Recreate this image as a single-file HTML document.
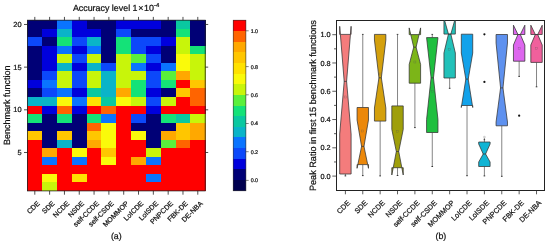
<!DOCTYPE html><html><head><meta charset="utf-8"><style>html,body{margin:0;padding:0;background:#fff;}svg{display:block;}text{font-family:"Liberation Sans",Arial,sans-serif;fill:#111;stroke:#111;stroke-width:0.22px;text-rendering:geometricPrecision;}</style></head><body>
<svg width="550" height="243" viewBox="0 0 550 243">
<rect width="550" height="243" fill="#fff"/>
<g shape-rendering="crispEdges">
<rect x="27.40" y="20.20" width="15.12" height="8.84" fill="#000076"/>
<rect x="42.22" y="20.20" width="15.12" height="8.84" fill="#000076"/>
<rect x="57.03" y="20.20" width="15.12" height="8.84" fill="#0a74ff"/>
<rect x="71.85" y="20.20" width="15.12" height="8.84" fill="#0000dc"/>
<rect x="86.67" y="20.20" width="15.12" height="8.84" fill="#000076"/>
<rect x="101.48" y="20.20" width="15.12" height="8.84" fill="#000076"/>
<rect x="116.30" y="20.20" width="15.12" height="8.84" fill="#0000dc"/>
<rect x="131.12" y="20.20" width="15.12" height="8.84" fill="#0000dc"/>
<rect x="145.93" y="20.20" width="15.12" height="8.84" fill="#0000dc"/>
<rect x="160.75" y="20.20" width="15.12" height="8.84" fill="#000076"/>
<rect x="175.57" y="20.20" width="15.12" height="8.84" fill="#0ac8a0"/>
<rect x="190.38" y="20.20" width="15.12" height="8.84" fill="#000076"/>
<rect x="27.40" y="28.73" width="15.12" height="8.84" fill="#000076"/>
<rect x="42.22" y="28.73" width="15.12" height="8.84" fill="#0000dc"/>
<rect x="57.03" y="28.73" width="15.12" height="8.84" fill="#0ab4c8"/>
<rect x="71.85" y="28.73" width="15.12" height="8.84" fill="#0000dc"/>
<rect x="86.67" y="28.73" width="15.12" height="8.84" fill="#0000dc"/>
<rect x="101.48" y="28.73" width="15.12" height="8.84" fill="#000076"/>
<rect x="116.30" y="28.73" width="15.12" height="8.84" fill="#0c48fa"/>
<rect x="131.12" y="28.73" width="15.12" height="8.84" fill="#000076"/>
<rect x="145.93" y="28.73" width="15.12" height="8.84" fill="#000076"/>
<rect x="160.75" y="28.73" width="15.12" height="8.84" fill="#000076"/>
<rect x="175.57" y="28.73" width="15.12" height="8.84" fill="#14e278"/>
<rect x="190.38" y="28.73" width="15.12" height="8.84" fill="#000076"/>
<rect x="27.40" y="37.27" width="15.12" height="8.84" fill="#0c48fa"/>
<rect x="42.22" y="37.27" width="15.12" height="8.84" fill="#000076"/>
<rect x="57.03" y="37.27" width="15.12" height="8.84" fill="#14e278"/>
<rect x="71.85" y="37.27" width="15.12" height="8.84" fill="#0c48fa"/>
<rect x="86.67" y="37.27" width="15.12" height="8.84" fill="#0ab4c8"/>
<rect x="101.48" y="37.27" width="15.12" height="8.84" fill="#000076"/>
<rect x="116.30" y="37.27" width="15.12" height="8.84" fill="#14e278"/>
<rect x="131.12" y="37.27" width="15.12" height="8.84" fill="#0c48fa"/>
<rect x="145.93" y="37.27" width="15.12" height="8.84" fill="#0c48fa"/>
<rect x="160.75" y="37.27" width="15.12" height="8.84" fill="#0000dc"/>
<rect x="175.57" y="37.27" width="15.12" height="8.84" fill="#c8f50a"/>
<rect x="190.38" y="37.27" width="15.12" height="8.84" fill="#000076"/>
<rect x="27.40" y="45.80" width="15.12" height="8.84" fill="#000076"/>
<rect x="42.22" y="45.80" width="15.12" height="8.84" fill="#0000dc"/>
<rect x="57.03" y="45.80" width="15.12" height="8.84" fill="#0a74ff"/>
<rect x="71.85" y="45.80" width="15.12" height="8.84" fill="#0000dc"/>
<rect x="86.67" y="45.80" width="15.12" height="8.84" fill="#0a74ff"/>
<rect x="101.48" y="45.80" width="15.12" height="8.84" fill="#000076"/>
<rect x="116.30" y="45.80" width="15.12" height="8.84" fill="#14e278"/>
<rect x="131.12" y="45.80" width="15.12" height="8.84" fill="#0c48fa"/>
<rect x="145.93" y="45.80" width="15.12" height="8.84" fill="#0000dc"/>
<rect x="160.75" y="45.80" width="15.12" height="8.84" fill="#000076"/>
<rect x="175.57" y="45.80" width="15.12" height="8.84" fill="#c8f50a"/>
<rect x="190.38" y="45.80" width="15.12" height="8.84" fill="#14e278"/>
<rect x="27.40" y="54.34" width="15.12" height="8.84" fill="#000076"/>
<rect x="42.22" y="54.34" width="15.12" height="8.84" fill="#0000dc"/>
<rect x="57.03" y="54.34" width="15.12" height="8.84" fill="#c8f50a"/>
<rect x="71.85" y="54.34" width="15.12" height="8.84" fill="#0c48fa"/>
<rect x="86.67" y="54.34" width="15.12" height="8.84" fill="#c8f50a"/>
<rect x="101.48" y="54.34" width="15.12" height="8.84" fill="#000076"/>
<rect x="116.30" y="54.34" width="15.12" height="8.84" fill="#c8f50a"/>
<rect x="131.12" y="54.34" width="15.12" height="8.84" fill="#5af03c"/>
<rect x="145.93" y="54.34" width="15.12" height="8.84" fill="#0c48fa"/>
<rect x="160.75" y="54.34" width="15.12" height="8.84" fill="#000076"/>
<rect x="175.57" y="54.34" width="15.12" height="8.84" fill="#fafa0a"/>
<rect x="190.38" y="54.34" width="15.12" height="8.84" fill="#c8f50a"/>
<rect x="27.40" y="62.88" width="15.12" height="8.84" fill="#000076"/>
<rect x="42.22" y="62.88" width="15.12" height="8.84" fill="#0000dc"/>
<rect x="57.03" y="62.88" width="15.12" height="8.84" fill="#0ab4c8"/>
<rect x="71.85" y="62.88" width="15.12" height="8.84" fill="#0000dc"/>
<rect x="86.67" y="62.88" width="15.12" height="8.84" fill="#0ab4c8"/>
<rect x="101.48" y="62.88" width="15.12" height="8.84" fill="#0c48fa"/>
<rect x="116.30" y="62.88" width="15.12" height="8.84" fill="#c8f50a"/>
<rect x="131.12" y="62.88" width="15.12" height="8.84" fill="#0a74ff"/>
<rect x="145.93" y="62.88" width="15.12" height="8.84" fill="#0000dc"/>
<rect x="160.75" y="62.88" width="15.12" height="8.84" fill="#0a74ff"/>
<rect x="175.57" y="62.88" width="15.12" height="8.84" fill="#fafa0a"/>
<rect x="190.38" y="62.88" width="15.12" height="8.84" fill="#c8f50a"/>
<rect x="27.40" y="71.41" width="15.12" height="8.84" fill="#000076"/>
<rect x="42.22" y="71.41" width="15.12" height="8.84" fill="#0c48fa"/>
<rect x="57.03" y="71.41" width="15.12" height="8.84" fill="#c8f50a"/>
<rect x="71.85" y="71.41" width="15.12" height="8.84" fill="#0c48fa"/>
<rect x="86.67" y="71.41" width="15.12" height="8.84" fill="#c8f50a"/>
<rect x="101.48" y="71.41" width="15.12" height="8.84" fill="#0ab4c8"/>
<rect x="116.30" y="71.41" width="15.12" height="8.84" fill="#c8f50a"/>
<rect x="131.12" y="71.41" width="15.12" height="8.84" fill="#c8f50a"/>
<rect x="145.93" y="71.41" width="15.12" height="8.84" fill="#0c48fa"/>
<rect x="160.75" y="71.41" width="15.12" height="8.84" fill="#5af03c"/>
<rect x="175.57" y="71.41" width="15.12" height="8.84" fill="#ffa800"/>
<rect x="190.38" y="71.41" width="15.12" height="8.84" fill="#c8f50a"/>
<rect x="27.40" y="79.95" width="15.12" height="8.84" fill="#0000dc"/>
<rect x="42.22" y="79.95" width="15.12" height="8.84" fill="#0a74ff"/>
<rect x="57.03" y="79.95" width="15.12" height="8.84" fill="#c8f50a"/>
<rect x="71.85" y="79.95" width="15.12" height="8.84" fill="#0c48fa"/>
<rect x="86.67" y="79.95" width="15.12" height="8.84" fill="#c8f50a"/>
<rect x="101.48" y="79.95" width="15.12" height="8.84" fill="#0ab4c8"/>
<rect x="116.30" y="79.95" width="15.12" height="8.84" fill="#c8f50a"/>
<rect x="131.12" y="79.95" width="15.12" height="8.84" fill="#14e278"/>
<rect x="145.93" y="79.95" width="15.12" height="8.84" fill="#0c48fa"/>
<rect x="160.75" y="79.95" width="15.12" height="8.84" fill="#14e278"/>
<rect x="175.57" y="79.95" width="15.12" height="8.84" fill="#ff0000"/>
<rect x="190.38" y="79.95" width="15.12" height="8.84" fill="#ffc600"/>
<rect x="27.40" y="88.48" width="15.12" height="8.84" fill="#000076"/>
<rect x="42.22" y="88.48" width="15.12" height="8.84" fill="#0c48fa"/>
<rect x="57.03" y="88.48" width="15.12" height="8.84" fill="#0a74ff"/>
<rect x="71.85" y="88.48" width="15.12" height="8.84" fill="#0000dc"/>
<rect x="86.67" y="88.48" width="15.12" height="8.84" fill="#0ac8a0"/>
<rect x="101.48" y="88.48" width="15.12" height="8.84" fill="#0ab4c8"/>
<rect x="116.30" y="88.48" width="15.12" height="8.84" fill="#ffa800"/>
<rect x="131.12" y="88.48" width="15.12" height="8.84" fill="#14e278"/>
<rect x="145.93" y="88.48" width="15.12" height="8.84" fill="#0000dc"/>
<rect x="160.75" y="88.48" width="15.12" height="8.84" fill="#000076"/>
<rect x="175.57" y="88.48" width="15.12" height="8.84" fill="#ffc600"/>
<rect x="190.38" y="88.48" width="15.12" height="8.84" fill="#ff6400"/>
<rect x="27.40" y="97.02" width="15.12" height="8.84" fill="#0ab4c8"/>
<rect x="42.22" y="97.02" width="15.12" height="8.84" fill="#0ab4c8"/>
<rect x="57.03" y="97.02" width="15.12" height="8.84" fill="#fafa0a"/>
<rect x="71.85" y="97.02" width="15.12" height="8.84" fill="#0a74ff"/>
<rect x="86.67" y="97.02" width="15.12" height="8.84" fill="#ffe100"/>
<rect x="101.48" y="97.02" width="15.12" height="8.84" fill="#0ac8a0"/>
<rect x="116.30" y="97.02" width="15.12" height="8.84" fill="#fafa0a"/>
<rect x="131.12" y="97.02" width="15.12" height="8.84" fill="#c8f50a"/>
<rect x="145.93" y="97.02" width="15.12" height="8.84" fill="#0c48fa"/>
<rect x="160.75" y="97.02" width="15.12" height="8.84" fill="#c8f50a"/>
<rect x="175.57" y="97.02" width="15.12" height="8.84" fill="#ff0000"/>
<rect x="190.38" y="97.02" width="15.12" height="8.84" fill="#ff6400"/>
<rect x="27.40" y="105.55" width="15.12" height="8.84" fill="#ff0000"/>
<rect x="42.22" y="105.55" width="15.12" height="8.84" fill="#0000dc"/>
<rect x="57.03" y="105.55" width="15.12" height="8.84" fill="#ff6400"/>
<rect x="71.85" y="105.55" width="15.12" height="8.84" fill="#0000dc"/>
<rect x="86.67" y="105.55" width="15.12" height="8.84" fill="#ff0000"/>
<rect x="101.48" y="105.55" width="15.12" height="8.84" fill="#ff6400"/>
<rect x="116.30" y="105.55" width="15.12" height="8.84" fill="#ff0000"/>
<rect x="131.12" y="105.55" width="15.12" height="8.84" fill="#ff0000"/>
<rect x="145.93" y="105.55" width="15.12" height="8.84" fill="#0000dc"/>
<rect x="160.75" y="105.55" width="15.12" height="8.84" fill="#ff0000"/>
<rect x="175.57" y="105.55" width="15.12" height="8.84" fill="#ff0000"/>
<rect x="190.38" y="105.55" width="15.12" height="8.84" fill="#ff0000"/>
<rect x="27.40" y="114.09" width="15.12" height="8.84" fill="#14e278"/>
<rect x="42.22" y="114.09" width="15.12" height="8.84" fill="#000076"/>
<rect x="57.03" y="114.09" width="15.12" height="8.84" fill="#14e278"/>
<rect x="71.85" y="114.09" width="15.12" height="8.84" fill="#000076"/>
<rect x="86.67" y="114.09" width="15.12" height="8.84" fill="#14e278"/>
<rect x="101.48" y="114.09" width="15.12" height="8.84" fill="#0a74ff"/>
<rect x="116.30" y="114.09" width="15.12" height="8.84" fill="#ff0000"/>
<rect x="131.12" y="114.09" width="15.12" height="8.84" fill="#0c48fa"/>
<rect x="145.93" y="114.09" width="15.12" height="8.84" fill="#000076"/>
<rect x="160.75" y="114.09" width="15.12" height="8.84" fill="#14e278"/>
<rect x="175.57" y="114.09" width="15.12" height="8.84" fill="#0ac8a0"/>
<rect x="190.38" y="114.09" width="15.12" height="8.84" fill="#c8f50a"/>
<rect x="27.40" y="122.62" width="15.12" height="8.84" fill="#000076"/>
<rect x="42.22" y="122.62" width="15.12" height="8.84" fill="#000076"/>
<rect x="57.03" y="122.62" width="15.12" height="8.84" fill="#000076"/>
<rect x="71.85" y="122.62" width="15.12" height="8.84" fill="#000076"/>
<rect x="86.67" y="122.62" width="15.12" height="8.84" fill="#ff6400"/>
<rect x="101.48" y="122.62" width="15.12" height="8.84" fill="#fafa0a"/>
<rect x="116.30" y="122.62" width="15.12" height="8.84" fill="#ff0000"/>
<rect x="131.12" y="122.62" width="15.12" height="8.84" fill="#000076"/>
<rect x="145.93" y="122.62" width="15.12" height="8.84" fill="#000076"/>
<rect x="160.75" y="122.62" width="15.12" height="8.84" fill="#000076"/>
<rect x="175.57" y="122.62" width="15.12" height="8.84" fill="#ffc600"/>
<rect x="190.38" y="122.62" width="15.12" height="8.84" fill="#ffa800"/>
<rect x="27.40" y="131.16" width="15.12" height="8.84" fill="#ffc600"/>
<rect x="42.22" y="131.16" width="15.12" height="8.84" fill="#000076"/>
<rect x="57.03" y="131.16" width="15.12" height="8.84" fill="#ffc600"/>
<rect x="71.85" y="131.16" width="15.12" height="8.84" fill="#000076"/>
<rect x="86.67" y="131.16" width="15.12" height="8.84" fill="#ffc600"/>
<rect x="101.48" y="131.16" width="15.12" height="8.84" fill="#fafa0a"/>
<rect x="116.30" y="131.16" width="15.12" height="8.84" fill="#ff0000"/>
<rect x="131.12" y="131.16" width="15.12" height="8.84" fill="#fafa0a"/>
<rect x="145.93" y="131.16" width="15.12" height="8.84" fill="#000076"/>
<rect x="160.75" y="131.16" width="15.12" height="8.84" fill="#ffa800"/>
<rect x="175.57" y="131.16" width="15.12" height="8.84" fill="#ffc600"/>
<rect x="190.38" y="131.16" width="15.12" height="8.84" fill="#ffa800"/>
<rect x="27.40" y="139.69" width="15.12" height="8.84" fill="#ff0000"/>
<rect x="42.22" y="139.69" width="15.12" height="8.84" fill="#000076"/>
<rect x="57.03" y="139.69" width="15.12" height="8.84" fill="#0ab4c8"/>
<rect x="71.85" y="139.69" width="15.12" height="8.84" fill="#000076"/>
<rect x="86.67" y="139.69" width="15.12" height="8.84" fill="#ffa800"/>
<rect x="101.48" y="139.69" width="15.12" height="8.84" fill="#fafa0a"/>
<rect x="116.30" y="139.69" width="15.12" height="8.84" fill="#ff0000"/>
<rect x="131.12" y="139.69" width="15.12" height="8.84" fill="#ff0000"/>
<rect x="145.93" y="139.69" width="15.12" height="8.84" fill="#000076"/>
<rect x="160.75" y="139.69" width="15.12" height="8.84" fill="#5af03c"/>
<rect x="175.57" y="139.69" width="15.12" height="8.84" fill="#ff6400"/>
<rect x="190.38" y="139.69" width="15.12" height="8.84" fill="#ff0000"/>
<rect x="27.40" y="148.22" width="15.12" height="8.84" fill="#ff0000"/>
<rect x="42.22" y="148.22" width="15.12" height="8.84" fill="#ffa800"/>
<rect x="57.03" y="148.22" width="15.12" height="8.84" fill="#ff0000"/>
<rect x="71.85" y="148.22" width="15.12" height="8.84" fill="#fafa0a"/>
<rect x="86.67" y="148.22" width="15.12" height="8.84" fill="#ff0000"/>
<rect x="101.48" y="148.22" width="15.12" height="8.84" fill="#ffc600"/>
<rect x="116.30" y="148.22" width="15.12" height="8.84" fill="#ff0000"/>
<rect x="131.12" y="148.22" width="15.12" height="8.84" fill="#ff0000"/>
<rect x="145.93" y="148.22" width="15.12" height="8.84" fill="#c8f50a"/>
<rect x="160.75" y="148.22" width="15.12" height="8.84" fill="#ff0000"/>
<rect x="175.57" y="148.22" width="15.12" height="8.84" fill="#ff0000"/>
<rect x="190.38" y="148.22" width="15.12" height="8.84" fill="#ff0000"/>
<rect x="27.40" y="156.76" width="15.12" height="8.84" fill="#ff0000"/>
<rect x="42.22" y="156.76" width="15.12" height="8.84" fill="#0a74ff"/>
<rect x="57.03" y="156.76" width="15.12" height="8.84" fill="#ff0000"/>
<rect x="71.85" y="156.76" width="15.12" height="8.84" fill="#0a74ff"/>
<rect x="86.67" y="156.76" width="15.12" height="8.84" fill="#ff0000"/>
<rect x="101.48" y="156.76" width="15.12" height="8.84" fill="#fafa0a"/>
<rect x="116.30" y="156.76" width="15.12" height="8.84" fill="#ff0000"/>
<rect x="131.12" y="156.76" width="15.12" height="8.84" fill="#ffa800"/>
<rect x="145.93" y="156.76" width="15.12" height="8.84" fill="#0a74ff"/>
<rect x="160.75" y="156.76" width="15.12" height="8.84" fill="#ff0000"/>
<rect x="175.57" y="156.76" width="15.12" height="8.84" fill="#ff0000"/>
<rect x="190.38" y="156.76" width="15.12" height="8.84" fill="#ff0000"/>
<rect x="27.40" y="165.29" width="15.12" height="8.84" fill="#ff0000"/>
<rect x="42.22" y="165.29" width="15.12" height="8.84" fill="#ff0000"/>
<rect x="57.03" y="165.29" width="15.12" height="8.84" fill="#ff0000"/>
<rect x="71.85" y="165.29" width="15.12" height="8.84" fill="#ff0000"/>
<rect x="86.67" y="165.29" width="15.12" height="8.84" fill="#ff0000"/>
<rect x="101.48" y="165.29" width="15.12" height="8.84" fill="#ff0000"/>
<rect x="116.30" y="165.29" width="15.12" height="8.84" fill="#ff0000"/>
<rect x="131.12" y="165.29" width="15.12" height="8.84" fill="#ff0000"/>
<rect x="145.93" y="165.29" width="15.12" height="8.84" fill="#ff0000"/>
<rect x="160.75" y="165.29" width="15.12" height="8.84" fill="#ff0000"/>
<rect x="175.57" y="165.29" width="15.12" height="8.84" fill="#ff0000"/>
<rect x="190.38" y="165.29" width="15.12" height="8.84" fill="#ff0000"/>
<rect x="27.40" y="173.83" width="15.12" height="8.84" fill="#ff0000"/>
<rect x="42.22" y="173.83" width="15.12" height="8.84" fill="#fafa0a"/>
<rect x="57.03" y="173.83" width="15.12" height="8.84" fill="#ff0000"/>
<rect x="71.85" y="173.83" width="15.12" height="8.84" fill="#ffe100"/>
<rect x="86.67" y="173.83" width="15.12" height="8.84" fill="#ff0000"/>
<rect x="101.48" y="173.83" width="15.12" height="8.84" fill="#ff0000"/>
<rect x="116.30" y="173.83" width="15.12" height="8.84" fill="#ff0000"/>
<rect x="131.12" y="173.83" width="15.12" height="8.84" fill="#ff0000"/>
<rect x="145.93" y="173.83" width="15.12" height="8.84" fill="#0a74ff"/>
<rect x="160.75" y="173.83" width="15.12" height="8.84" fill="#ff0000"/>
<rect x="175.57" y="173.83" width="15.12" height="8.84" fill="#ff0000"/>
<rect x="190.38" y="173.83" width="15.12" height="8.84" fill="#ff0000"/>
<rect x="27.40" y="182.36" width="15.12" height="8.84" fill="#ff0000"/>
<rect x="42.22" y="182.36" width="15.12" height="8.84" fill="#c8f50a"/>
<rect x="57.03" y="182.36" width="15.12" height="8.84" fill="#ff0000"/>
<rect x="71.85" y="182.36" width="15.12" height="8.84" fill="#ff0000"/>
<rect x="86.67" y="182.36" width="15.12" height="8.84" fill="#ff0000"/>
<rect x="101.48" y="182.36" width="15.12" height="8.84" fill="#ff0000"/>
<rect x="116.30" y="182.36" width="15.12" height="8.84" fill="#ff0000"/>
<rect x="131.12" y="182.36" width="15.12" height="8.84" fill="#ff0000"/>
<rect x="145.93" y="182.36" width="15.12" height="8.84" fill="#ff0000"/>
<rect x="160.75" y="182.36" width="15.12" height="8.84" fill="#ff0000"/>
<rect x="175.57" y="182.36" width="15.12" height="8.84" fill="#ff0000"/>
<rect x="190.38" y="182.36" width="15.12" height="8.84" fill="#ff0000"/>
</g>
<rect x="27.4" y="20.2" width="177.80" height="170.70" fill="none" stroke="#222" stroke-width="0.8"/>
<path d="M34.81 20.2V16.9 M34.81 190.9V194.70000000000002 M49.62 20.2V16.9 M49.62 190.9V194.70000000000002 M64.44 20.2V16.9 M64.44 190.9V194.70000000000002 M79.26 20.2V16.9 M79.26 190.9V194.70000000000002 M94.07 20.2V16.9 M94.07 190.9V194.70000000000002 M108.89 20.2V16.9 M108.89 190.9V194.70000000000002 M123.71 20.2V16.9 M123.71 190.9V194.70000000000002 M138.52 20.2V16.9 M138.52 190.9V194.70000000000002 M153.34 20.2V16.9 M153.34 190.9V194.70000000000002 M168.16 20.2V16.9 M168.16 190.9V194.70000000000002 M182.97 20.2V16.9 M182.97 190.9V194.70000000000002 M197.79 20.2V16.9 M197.79 190.9V194.70000000000002 M27.4 24.47H24.0 M205.2 24.47H208.2 M27.4 67.14H24.0 M205.2 67.14H208.2 M27.4 109.82H24.0 M205.2 109.82H208.2 M27.4 152.49H24.0 M205.2 152.49H208.2" stroke="#222" stroke-width="0.8" fill="none"/>
<text x="21.5" y="27.07" font-size="7.4" text-anchor="end">20</text>
<text x="21.5" y="69.74" font-size="7.4" text-anchor="end">15</text>
<text x="21.5" y="112.42" font-size="7.4" text-anchor="end">10</text>
<text x="21.5" y="155.09" font-size="7.4" text-anchor="end">5</text>
<text transform="translate(40.21,203.9) rotate(-45)" font-size="7.0" text-anchor="end">CDE</text>
<text transform="translate(55.02,203.9) rotate(-45)" font-size="7.0" text-anchor="end">SDE</text>
<text transform="translate(69.84,203.9) rotate(-45)" font-size="7.0" text-anchor="end">NCDE</text>
<text transform="translate(84.66,203.9) rotate(-45)" font-size="7.0" text-anchor="end">NSDE</text>
<text transform="translate(99.47,203.9) rotate(-45)" font-size="7.0" text-anchor="end">self-CCDE</text>
<text transform="translate(114.29,203.9) rotate(-45)" font-size="7.0" text-anchor="end">self-CSDE</text>
<text transform="translate(129.11,203.9) rotate(-45)" font-size="7.0" text-anchor="end">MOMMOP</text>
<text transform="translate(143.92,203.9) rotate(-45)" font-size="7.0" text-anchor="end">LoICDE</text>
<text transform="translate(158.74,203.9) rotate(-45)" font-size="7.0" text-anchor="end">LoISDE</text>
<text transform="translate(173.56,203.9) rotate(-45)" font-size="7.0" text-anchor="end">PNPCDE</text>
<text transform="translate(188.38,203.9) rotate(-45)" font-size="7.0" text-anchor="end">FBK-DE</text>
<text transform="translate(203.19,203.9) rotate(-45)" font-size="7.0" text-anchor="end">DE-NBA</text>
<text transform="translate(10.2,105.2) rotate(-90)" font-size="9.0" text-anchor="middle">Benchmark function</text>
<text x="72.9" y="10.6" font-size="8.9">Accuracy level 1<tspan dx="0.7">×</tspan><tspan dx="0.7">10</tspan><tspan font-size="5.8" dy="-3.6">-4</tspan></text>
<text x="116.3" y="239.2" font-size="8.8" text-anchor="middle">(a)</text>
<g shape-rendering="crispEdges">
<rect x="233.2" y="20.20" width="12.70" height="10.96" fill="#ff0000"/>
<rect x="233.2" y="30.86" width="12.70" height="10.96" fill="#ff6400"/>
<rect x="233.2" y="41.53" width="12.70" height="10.96" fill="#ffa800"/>
<rect x="233.2" y="52.19" width="12.70" height="10.96" fill="#ffc600"/>
<rect x="233.2" y="62.85" width="12.70" height="10.96" fill="#ffe100"/>
<rect x="233.2" y="73.51" width="12.70" height="10.96" fill="#fafa0a"/>
<rect x="233.2" y="84.18" width="12.70" height="10.96" fill="#c8f50a"/>
<rect x="233.2" y="94.84" width="12.70" height="10.96" fill="#5af03c"/>
<rect x="233.2" y="105.50" width="12.70" height="10.96" fill="#14e278"/>
<rect x="233.2" y="116.16" width="12.70" height="10.96" fill="#0ac8a0"/>
<rect x="233.2" y="126.83" width="12.70" height="10.96" fill="#0ab4c8"/>
<rect x="233.2" y="137.49" width="12.70" height="10.96" fill="#0a74ff"/>
<rect x="233.2" y="148.15" width="12.70" height="10.96" fill="#0c48fa"/>
<rect x="233.2" y="158.81" width="12.70" height="10.96" fill="#0000dc"/>
<rect x="233.2" y="169.48" width="12.70" height="10.96" fill="#000076"/>
<rect x="233.2" y="180.14" width="12.70" height="10.96" fill="#000050"/>
</g>
<rect x="233.2" y="20.2" width="12.70" height="170.60" fill="none" stroke="#333" stroke-width="0.6"/>
<path d="M245.9 30.8H248.70000000000002 M245.9 66.6H248.70000000000002 M245.9 94.8H248.70000000000002 M245.9 123.5H248.70000000000002 M245.9 151.7H248.70000000000002 M245.9 180.4H248.70000000000002" stroke="#333" stroke-width="0.6"/>
<text x="250.7" y="32.70" font-size="5.3">1.0</text>
<text x="250.7" y="68.50" font-size="5.3">0.8</text>
<text x="250.7" y="96.70" font-size="5.3">0.6</text>
<text x="250.7" y="125.40" font-size="5.3">0.4</text>
<text x="250.7" y="153.60" font-size="5.3">0.2</text>
<text x="250.7" y="182.30" font-size="5.3">0.0</text>
<rect x="336.5" y="20.5" width="208.00" height="170.00" fill="none" stroke="#222" stroke-width="1"/>
<path d="M336.5 176.10H332.3 M336.5 161.96H334.0 M336.5 147.82H332.3 M336.5 133.68H334.0 M336.5 119.54H332.3 M336.5 105.40H334.0 M336.5 91.26H332.3 M336.5 77.12H334.0 M336.5 62.98H332.3 M336.5 48.84H334.0 M336.5 34.70H332.3 M345.40 190.5V194.3 M362.77 190.5V194.3 M380.15 190.5V194.3 M397.52 190.5V194.3 M414.90 190.5V194.3 M432.27 190.5V194.3 M449.65 190.5V194.3 M467.02 190.5V194.3 M484.40 190.5V194.3 M501.77 190.5V194.3 M519.15 190.5V194.3 M536.52 190.5V194.3" stroke="#333" stroke-width="0.8" fill="none"/>
<text x="330.6" y="178.70" font-size="7.3" text-anchor="end">0.0</text>
<text x="330.6" y="150.42" font-size="7.3" text-anchor="end">0.2</text>
<text x="330.6" y="122.14" font-size="7.3" text-anchor="end">0.4</text>
<text x="330.6" y="93.86" font-size="7.3" text-anchor="end">0.6</text>
<text x="330.6" y="65.58" font-size="7.3" text-anchor="end">0.8</text>
<text x="330.6" y="37.30" font-size="7.3" text-anchor="end">1.0</text>
<text transform="translate(350.60,203.4) rotate(-45)" font-size="7.25" text-anchor="end">CDE</text>
<text transform="translate(367.97,203.4) rotate(-45)" font-size="7.25" text-anchor="end">SDE</text>
<text transform="translate(385.35,203.4) rotate(-45)" font-size="7.25" text-anchor="end">NCDE</text>
<text transform="translate(402.72,203.4) rotate(-45)" font-size="7.25" text-anchor="end">NSDE</text>
<text transform="translate(420.10,203.4) rotate(-45)" font-size="7.25" text-anchor="end">self-CCDE</text>
<text transform="translate(437.47,203.4) rotate(-45)" font-size="7.25" text-anchor="end">self-CSDE</text>
<text transform="translate(454.85,203.4) rotate(-45)" font-size="7.25" text-anchor="end">MOMMOP</text>
<text transform="translate(472.22,203.4) rotate(-45)" font-size="7.25" text-anchor="end">LoICDE</text>
<text transform="translate(489.60,203.4) rotate(-45)" font-size="7.25" text-anchor="end">LoISDE</text>
<text transform="translate(506.97,203.4) rotate(-45)" font-size="7.25" text-anchor="end">PNPCDE</text>
<text transform="translate(524.35,203.4) rotate(-45)" font-size="7.25" text-anchor="end">FBK-DE</text>
<text transform="translate(541.73,203.4) rotate(-45)" font-size="7.25" text-anchor="end">DE-NBA</text>
<text transform="translate(316.4,105.6) rotate(-90)" font-size="9.15" text-anchor="middle">Peak Ratio in first 15 benchmark functions</text>
<text x="440.9" y="238.6" font-size="8.8" text-anchor="middle">(b)</text>
<defs><clipPath id="pc"><rect x="336.5" y="20.5" width="208.0" height="170.0"/></clipPath></defs>
<g clip-path="url(#pc)">
<path d="M345.40 174.0V175.9" stroke="#777" stroke-width="0.9"/>
<rect x="344.60" y="175.40" width="1.6" height="1" fill="#333"/>
<polygon points="339.70,174.00 339.70,134.00 344.20,81.40 340.36,34.40 350.44,34.40 346.60,81.40 351.10,134.00 351.10,174.00" fill="#f47c7c" stroke="#333" stroke-width="0.75" stroke-linejoin="round"/>
<path d="M340.36 34.4L339.70 26.30L339.70 34.4ZM350.44 34.4L351.10 26.30L351.10 34.4Z" fill="#f47c7c" stroke="#333" stroke-width="0.75" stroke-linejoin="round"/>
<path d="M343.90 81.4H346.90" stroke="#333" stroke-width="0.7"/>
<rect x="344.40" y="96.00" width="2" height="2" fill="none" stroke="#555" stroke-width="0.35" opacity="0.6"/>
<path d="M362.77 34.4V107.5" stroke="#777" stroke-width="0.9"/>
<rect x="361.97" y="33.90" width="1.6" height="1" fill="#444"/>
<path d="M362.77 164.6V175.6" stroke="#777" stroke-width="0.9"/>
<rect x="361.97" y="175.10" width="1.6" height="1" fill="#333"/>
<polygon points="357.84,164.60 361.57,146.40 357.07,120.00 357.07,107.50 368.47,107.50 368.47,120.00 363.97,146.40 367.71,164.60" fill="#ec880a" stroke="#333" stroke-width="0.75" stroke-linejoin="round"/>
<path d="M357.84 164.6L357.07 168.30L357.07 164.6ZM367.71 164.6L368.47 168.30L368.47 164.6Z" fill="#ec880a" stroke="#333" stroke-width="0.75" stroke-linejoin="round"/>
<path d="M361.27 146.4H364.27" stroke="#333" stroke-width="0.7"/>
<rect x="361.77" y="130.00" width="2" height="2" fill="none" stroke="#555" stroke-width="0.35" opacity="0.6"/>
<path d="M380.15 121.1V175.9" stroke="#777" stroke-width="0.9"/>
<rect x="379.35" y="175.40" width="1.6" height="1" fill="#333"/>
<polygon points="374.45,121.10 374.45,108.00 378.95,77.80 374.45,40.00 374.45,34.40 385.85,34.40 385.85,40.00 381.35,77.80 385.85,108.00 385.85,121.10" fill="#d4a00c" stroke="#333" stroke-width="0.75" stroke-linejoin="round"/>
<path d="M378.65 77.8H381.65" stroke="#333" stroke-width="0.7"/>
<rect x="379.15" y="73.00" width="2" height="2" fill="none" stroke="#555" stroke-width="0.35" opacity="0.6"/>
<path d="M397.52 34.4V105.9" stroke="#777" stroke-width="0.9"/>
<rect x="396.72" y="33.90" width="1.6" height="1" fill="#444"/>
<path d="M397.52 167.7V175.5" stroke="#777" stroke-width="0.9"/>
<rect x="396.72" y="175.00" width="1.6" height="1" fill="#333"/>
<polygon points="393.22,167.70 396.32,151.50 391.82,129.40 391.82,105.90 403.22,105.90 403.22,129.40 398.72,151.50 401.83,167.70" fill="#9f9f0a" stroke="#333" stroke-width="0.75" stroke-linejoin="round"/>
<path d="M393.22 167.7L391.82 175.00L391.82 167.7ZM401.83 167.7L403.22 175.00L403.22 167.7Z" fill="#9f9f0a" stroke="#333" stroke-width="0.75" stroke-linejoin="round"/>
<path d="M396.02 151.5H399.02" stroke="#333" stroke-width="0.7"/>
<rect x="396.52" y="130.30" width="2" height="2" fill="none" stroke="#555" stroke-width="0.35" opacity="0.6"/>
<path d="M414.90 83.2V127.6" stroke="#777" stroke-width="0.9"/>
<rect x="414.10" y="127.10" width="1.6" height="1" fill="#333"/>
<polygon points="409.20,83.20 409.20,64.40 413.70,47.20 410.76,34.60 419.04,34.60 416.10,47.20 420.60,64.40 420.60,83.20" fill="#7cb518" stroke="#333" stroke-width="0.75" stroke-linejoin="round"/>
<path d="M410.76 34.6L409.20 27.90L409.20 34.6ZM419.04 34.6L420.60 27.90L420.60 34.6Z" fill="#7cb518" stroke="#333" stroke-width="0.75" stroke-linejoin="round"/>
<path d="M413.40 47.2H416.40" stroke="#333" stroke-width="0.7"/>
<rect x="413.90" y="61.00" width="2" height="2" fill="none" stroke="#555" stroke-width="0.35" opacity="0.6"/>
<path d="M432.27 34.4V37.6" stroke="#777" stroke-width="0.9"/>
<rect x="431.47" y="33.90" width="1.6" height="1" fill="#444"/>
<path d="M432.27 132.5V166.5" stroke="#777" stroke-width="0.9"/>
<rect x="431.47" y="166.00" width="1.6" height="1" fill="#333"/>
<polygon points="426.57,132.50 426.57,119.60 431.07,77.80 426.57,37.60 437.97,37.60 433.47,77.80 437.97,119.60 437.97,132.50" fill="#1fbf3f" stroke="#333" stroke-width="0.75" stroke-linejoin="round"/>
<path d="M430.77 77.8H433.77" stroke="#333" stroke-width="0.7"/>
<rect x="431.27" y="90.60" width="2" height="2" fill="none" stroke="#555" stroke-width="0.35" opacity="0.6"/>
<path d="M449.65 78.0V88.3" stroke="#777" stroke-width="0.9"/>
<rect x="448.85" y="87.80" width="1.6" height="1" fill="#333"/>
<polygon points="443.95,78.00 443.95,53.00 448.45,34.10 450.85,34.10 455.35,53.00 455.35,78.00" fill="#22c1b9" stroke="#333" stroke-width="0.75" stroke-linejoin="round"/>
<path d="M448.45 34.1L443.95 18.00L443.95 34.1ZM450.85 34.1L455.35 18.00L455.35 34.1Z" fill="#22c1b9" stroke="#333" stroke-width="0.75" stroke-linejoin="round"/>
<path d="M448.15 34.1H451.15" stroke="#333" stroke-width="0.7"/>
<rect x="448.65" y="48.80" width="2" height="2" fill="none" stroke="#555" stroke-width="0.35" opacity="0.6"/>
<path d="M467.02 105.5V175.7" stroke="#777" stroke-width="0.9"/>
<rect x="466.22" y="175.20" width="1.6" height="1" fill="#333"/>
<polygon points="461.64,105.50 465.82,79.10 461.32,53.00 461.32,34.20 472.72,34.20 472.72,53.00 468.22,79.10 472.41,105.50" fill="#12a2ea" stroke="#333" stroke-width="0.75" stroke-linejoin="round"/>
<path d="M461.64 105.5L461.32 107.50L461.32 105.5ZM472.41 105.5L472.72 107.50L472.72 105.5Z" fill="#12a2ea" stroke="#333" stroke-width="0.75" stroke-linejoin="round"/>
<path d="M465.52 79.1H468.52" stroke="#333" stroke-width="0.7"/>
<path d="M484.40 137.8V142.0" stroke="#777" stroke-width="0.9"/>
<circle cx="484.40" cy="137.00" r="1.3" fill="#d0d0d0"/>
<rect x="483.70" y="139.20" width="1.4" height="1" fill="#333"/>
<path d="M484.40 166.5V175.9" stroke="#777" stroke-width="0.9"/>
<rect x="483.60" y="175.40" width="1.6" height="1" fill="#333"/>
<polygon points="478.70,166.50 478.70,162.00 483.20,154.00 478.70,144.00 478.70,142.00 490.10,142.00 490.10,144.00 485.60,154.00 490.10,162.00 490.10,166.50" fill="#10b4d4" stroke="#333" stroke-width="0.75" stroke-linejoin="round"/>
<path d="M482.90 154.0H485.90" stroke="#333" stroke-width="0.7"/>
<circle cx="484.40" cy="34.3" r="1.1" fill="#111"/>
<circle cx="484.40" cy="81.9" r="1.1" fill="#111"/>
<path d="M501.77 125.8V176.3" stroke="#777" stroke-width="0.9"/>
<rect x="500.97" y="175.80" width="1.6" height="1" fill="#333"/>
<polygon points="496.07,125.80 496.07,122.00 500.57,87.90 496.07,43.00 496.07,34.50 507.47,34.50 507.47,43.00 502.97,87.90 507.47,122.00 507.47,125.80" fill="#5e91ef" stroke="#333" stroke-width="0.75" stroke-linejoin="round"/>
<path d="M500.27 87.9H503.27" stroke="#333" stroke-width="0.7"/>
<path d="M519.15 61.2V76.4" stroke="#777" stroke-width="0.9"/>
<rect x="518.35" y="75.90" width="1.6" height="1" fill="#333"/>
<polygon points="513.45,61.20 513.45,45.00 517.95,34.50 520.35,34.50 524.85,45.00 524.85,61.20" fill="#dd66ee" stroke="#333" stroke-width="0.75" stroke-linejoin="round"/>
<path d="M517.95 34.5L513.45 25.20L513.45 34.5ZM520.35 34.5L524.85 25.20L524.85 34.5Z" fill="#dd66ee" stroke="#333" stroke-width="0.75" stroke-linejoin="round"/>
<path d="M517.65 34.5H520.65" stroke="#333" stroke-width="0.7"/>
<rect x="518.15" y="47.60" width="2" height="2" fill="none" stroke="#555" stroke-width="0.35" opacity="0.6"/>
<circle cx="519.15" cy="115.7" r="1.1" fill="#111"/>
<path d="M536.52 62.4V86.8" stroke="#777" stroke-width="0.9"/>
<rect x="535.73" y="86.30" width="1.6" height="1" fill="#333"/>
<polygon points="530.82,62.40 530.82,45.00 535.32,34.50 537.73,34.50 542.23,45.00 542.23,62.40" fill="#f0609c" stroke="#333" stroke-width="0.75" stroke-linejoin="round"/>
<path d="M535.32 34.5L530.82 25.20L530.82 34.5ZM537.73 34.5L542.23 25.20L542.23 34.5Z" fill="#f0609c" stroke="#333" stroke-width="0.75" stroke-linejoin="round"/>
<path d="M535.02 34.5H538.02" stroke="#333" stroke-width="0.7"/>
<rect x="535.52" y="47.60" width="2" height="2" fill="none" stroke="#555" stroke-width="0.35" opacity="0.6"/>
</g>
</svg></body></html>
